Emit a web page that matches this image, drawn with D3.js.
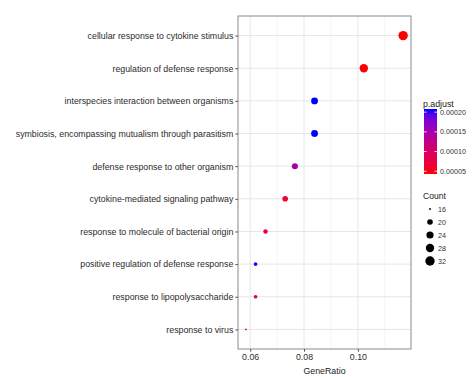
<!DOCTYPE html>
<html>
<head>
<meta charset="utf-8">
<script src="https://cdn.jsdelivr.net/npm/d3@7/dist/d3.min.js"></script>
<style>
  body { margin: 0; background: #fff; }
  text { font-family: "Liberation Sans", Arial, sans-serif; }
</style>
</head>
<body>
<div id="chart"></div>
<script>
// GO terms, top to bottom
var terms = [
  'cellular response to cytokine stimulus',
  'regulation of defense response',
  'interspecies interaction between organisms',
  'symbiosis, encompassing mutualism through parasitism',
  'defense response to other organism',
  'cytokine-mediated signaling pathway',
  'response to molecule of bacterial origin',
  'positive regulation of defense response',
  'response to lipopolysaccharide',
  'response to virus'
];
var geneRatio = [0.1168, 0.1022, 0.0839, 0.0839, 0.0766, 0.0730, 0.0657, 0.0620, 0.0620, 0.0584];
var counts = [32, 28, 23, 23, 21, 20, 18, 17, 17, 16];
var pAdjust = [0.000043, 0.000045, 0.000208, 0.000208, 0.000150, 0.000060, 0.000070, 0.000205, 0.000085, 0.000090];

var xTicks = [0.06, 0.08, 0.10];
var xMinor = [0.07, 0.09, 0.11];
var pTicks = [0.00005, 0.00010, 0.00015, 0.00020];
var countBreaks = [16, 20, 24, 28, 32];

const width = 474;
const height = 377;
const panelL = 238, panelR = 411, panelT = 16, panelB = 349;

const svg = d3.select('#chart')
  .append('svg')
  .attr('width', width)
  .attr('height', height);

// x scale with ggplot-style 5% expansion
var ext = d3.extent(geneRatio);
var pad = (ext[1] - ext[0]) * 0.05;
var xScale = d3.scaleLinear()
  .domain([ext[0] - pad, ext[1] + pad])
  .range([panelL, panelR]);

var yScale = d3.scalePoint()
  .domain(terms)
  .range([panelT, panelB])
  .padding(0.6);

var color = d3.scaleLinear()
  .domain(d3.extent(pAdjust))
  .range(['red', 'blue'])
  .interpolate(d3.interpolateLab);

var cExt = d3.extent(counts);
var t = d3.scaleLinear().domain(cExt).range([0, 1]);
function radius(c) { return 0.9 + 3.8 * Math.sqrt(t(c)); }

// grid
svg.selectAll('.minor')
  .data(xMinor)
  .enter()
  .append('line')
  .attr('x1', d => xScale(d)).attr('x2', d => xScale(d))
  .attr('y1', panelT).attr('y2', panelB)
  .attr('stroke', '#f0f0f0').attr('stroke-width', 0.7);

svg.selectAll('.major')
  .data(xTicks)
  .enter()
  .append('line')
  .attr('x1', d => xScale(d)).attr('x2', d => xScale(d))
  .attr('y1', panelT).attr('y2', panelB)
  .attr('stroke', '#e6e6e6').attr('stroke-width', 1);

svg.selectAll('.hgrid')
  .data(terms)
  .enter()
  .append('line')
  .attr('x1', panelL).attr('x2', panelR)
  .attr('y1', d => yScale(d)).attr('y2', d => yScale(d))
  .attr('stroke', '#e6e6e6').attr('stroke-width', 1);

// points
svg.selectAll('circle.pt')
  .data(terms)
  .enter()
  .append('circle')
  .attr('class', 'pt')
  .attr('cx', (d, i) => xScale(geneRatio[i]))
  .attr('cy', d => yScale(d))
  .attr('r', (d, i) => radius(counts[i]))
  .attr('fill', (d, i) => color(pAdjust[i]));

// panel border
svg.append('rect')
  .attr('x', panelL).attr('y', panelT)
  .attr('width', panelR - panelL).attr('height', panelB - panelT)
  .attr('fill', 'none').attr('stroke', '#8a8a8a').attr('stroke-width', 1);

// axes
var yAxis = svg.append('g')
  .attr('transform', 'translate(' + panelL + ',0)')
  .call(d3.axisLeft(yScale).tickSize(2.7).tickPadding(2));
var xAxis = svg.append('g')
  .attr('transform', 'translate(0,' + panelB + ')')
  .call(d3.axisBottom(xScale).tickValues(xTicks).tickSize(2.7).tickPadding(2)
    .tickFormat(d3.format('.2f')));
[yAxis, xAxis].forEach(function (g) {
  g.select('.domain').remove();
  g.selectAll('line').attr('stroke', '#555');
  g.selectAll('text')
    .attr('fill', '#2b2b2b')
    .style('font-size', '8.8px')
    .style('font-family', '"Liberation Sans", Arial, sans-serif');
});

svg.append('text')
  .attr('x', (panelL + panelR) / 2)
  .attr('y', 374)
  .attr('text-anchor', 'middle')
  .attr('fill', '#222')
  .style('font-size', '8.8px')
  .text('GeneRatio');

// colour bar legend
const barX = 424, barW = 13, barTop = 109, barBot = 174;
var grad = svg.append('defs').append('linearGradient')
  .attr('id', 'pgrad')
  .attr('x1', 0).attr('y1', 1).attr('x2', 0).attr('y2', 0);
d3.range(0, 1.0001, 0.1).forEach(function (s) {
  grad.append('stop')
    .attr('offset', s)
    .attr('stop-color', color(color.domain()[0] + s * (color.domain()[1] - color.domain()[0])));
});

svg.append('text')
  .attr('x', 423).attr('y', 107)
  .attr('fill', '#222')
  .style('font-size', '8.8px')
  .text('p.adjust');

svg.append('rect')
  .attr('x', barX).attr('y', barTop)
  .attr('width', barW).attr('height', barBot - barTop)
  .attr('fill', 'url(#pgrad)');

var barScale = d3.scaleLinear()
  .domain(color.domain())
  .range([barBot, barTop]);

var pt = svg.selectAll('.ptick')
  .data(pTicks)
  .enter()
  .append('g');
pt.append('line')
  .attr('x1', barX).attr('x2', barX + 2.6)
  .attr('y1', d => barScale(d)).attr('y2', d => barScale(d))
  .attr('stroke', '#fff').attr('stroke-width', 0.8);
pt.append('line')
  .attr('x1', barX + barW - 2.6).attr('x2', barX + barW)
  .attr('y1', d => barScale(d)).attr('y2', d => barScale(d))
  .attr('stroke', '#fff').attr('stroke-width', 0.8);
pt.append('text')
  .attr('x', 440)
  .attr('y', d => barScale(d) + 2.5)
  .attr('fill', '#333')
  .style('font-size', '7.2px')
  .text(d => d3.format('.5f')(d));

// size legend
svg.append('text')
  .attr('x', 423).attr('y', 199)
  .attr('fill', '#222')
  .style('font-size', '8.6px')
  .text('Count');

var sizeY = d3.scalePoint().domain(countBreaks).range([209, 261]);
var sk = svg.selectAll('.skey')
  .data(countBreaks)
  .enter()
  .append('g');
sk.append('circle')
  .attr('cx', 430)
  .attr('cy', d => sizeY(d))
  .attr('r', d => radius(d))
  .attr('fill', '#000');
sk.append('text')
  .attr('x', 438)
  .attr('y', d => sizeY(d) + 2.5)
  .attr('fill', '#333')
  .style('font-size', '7.2px')
  .text(d => d);
</script>
</body>
</html>
